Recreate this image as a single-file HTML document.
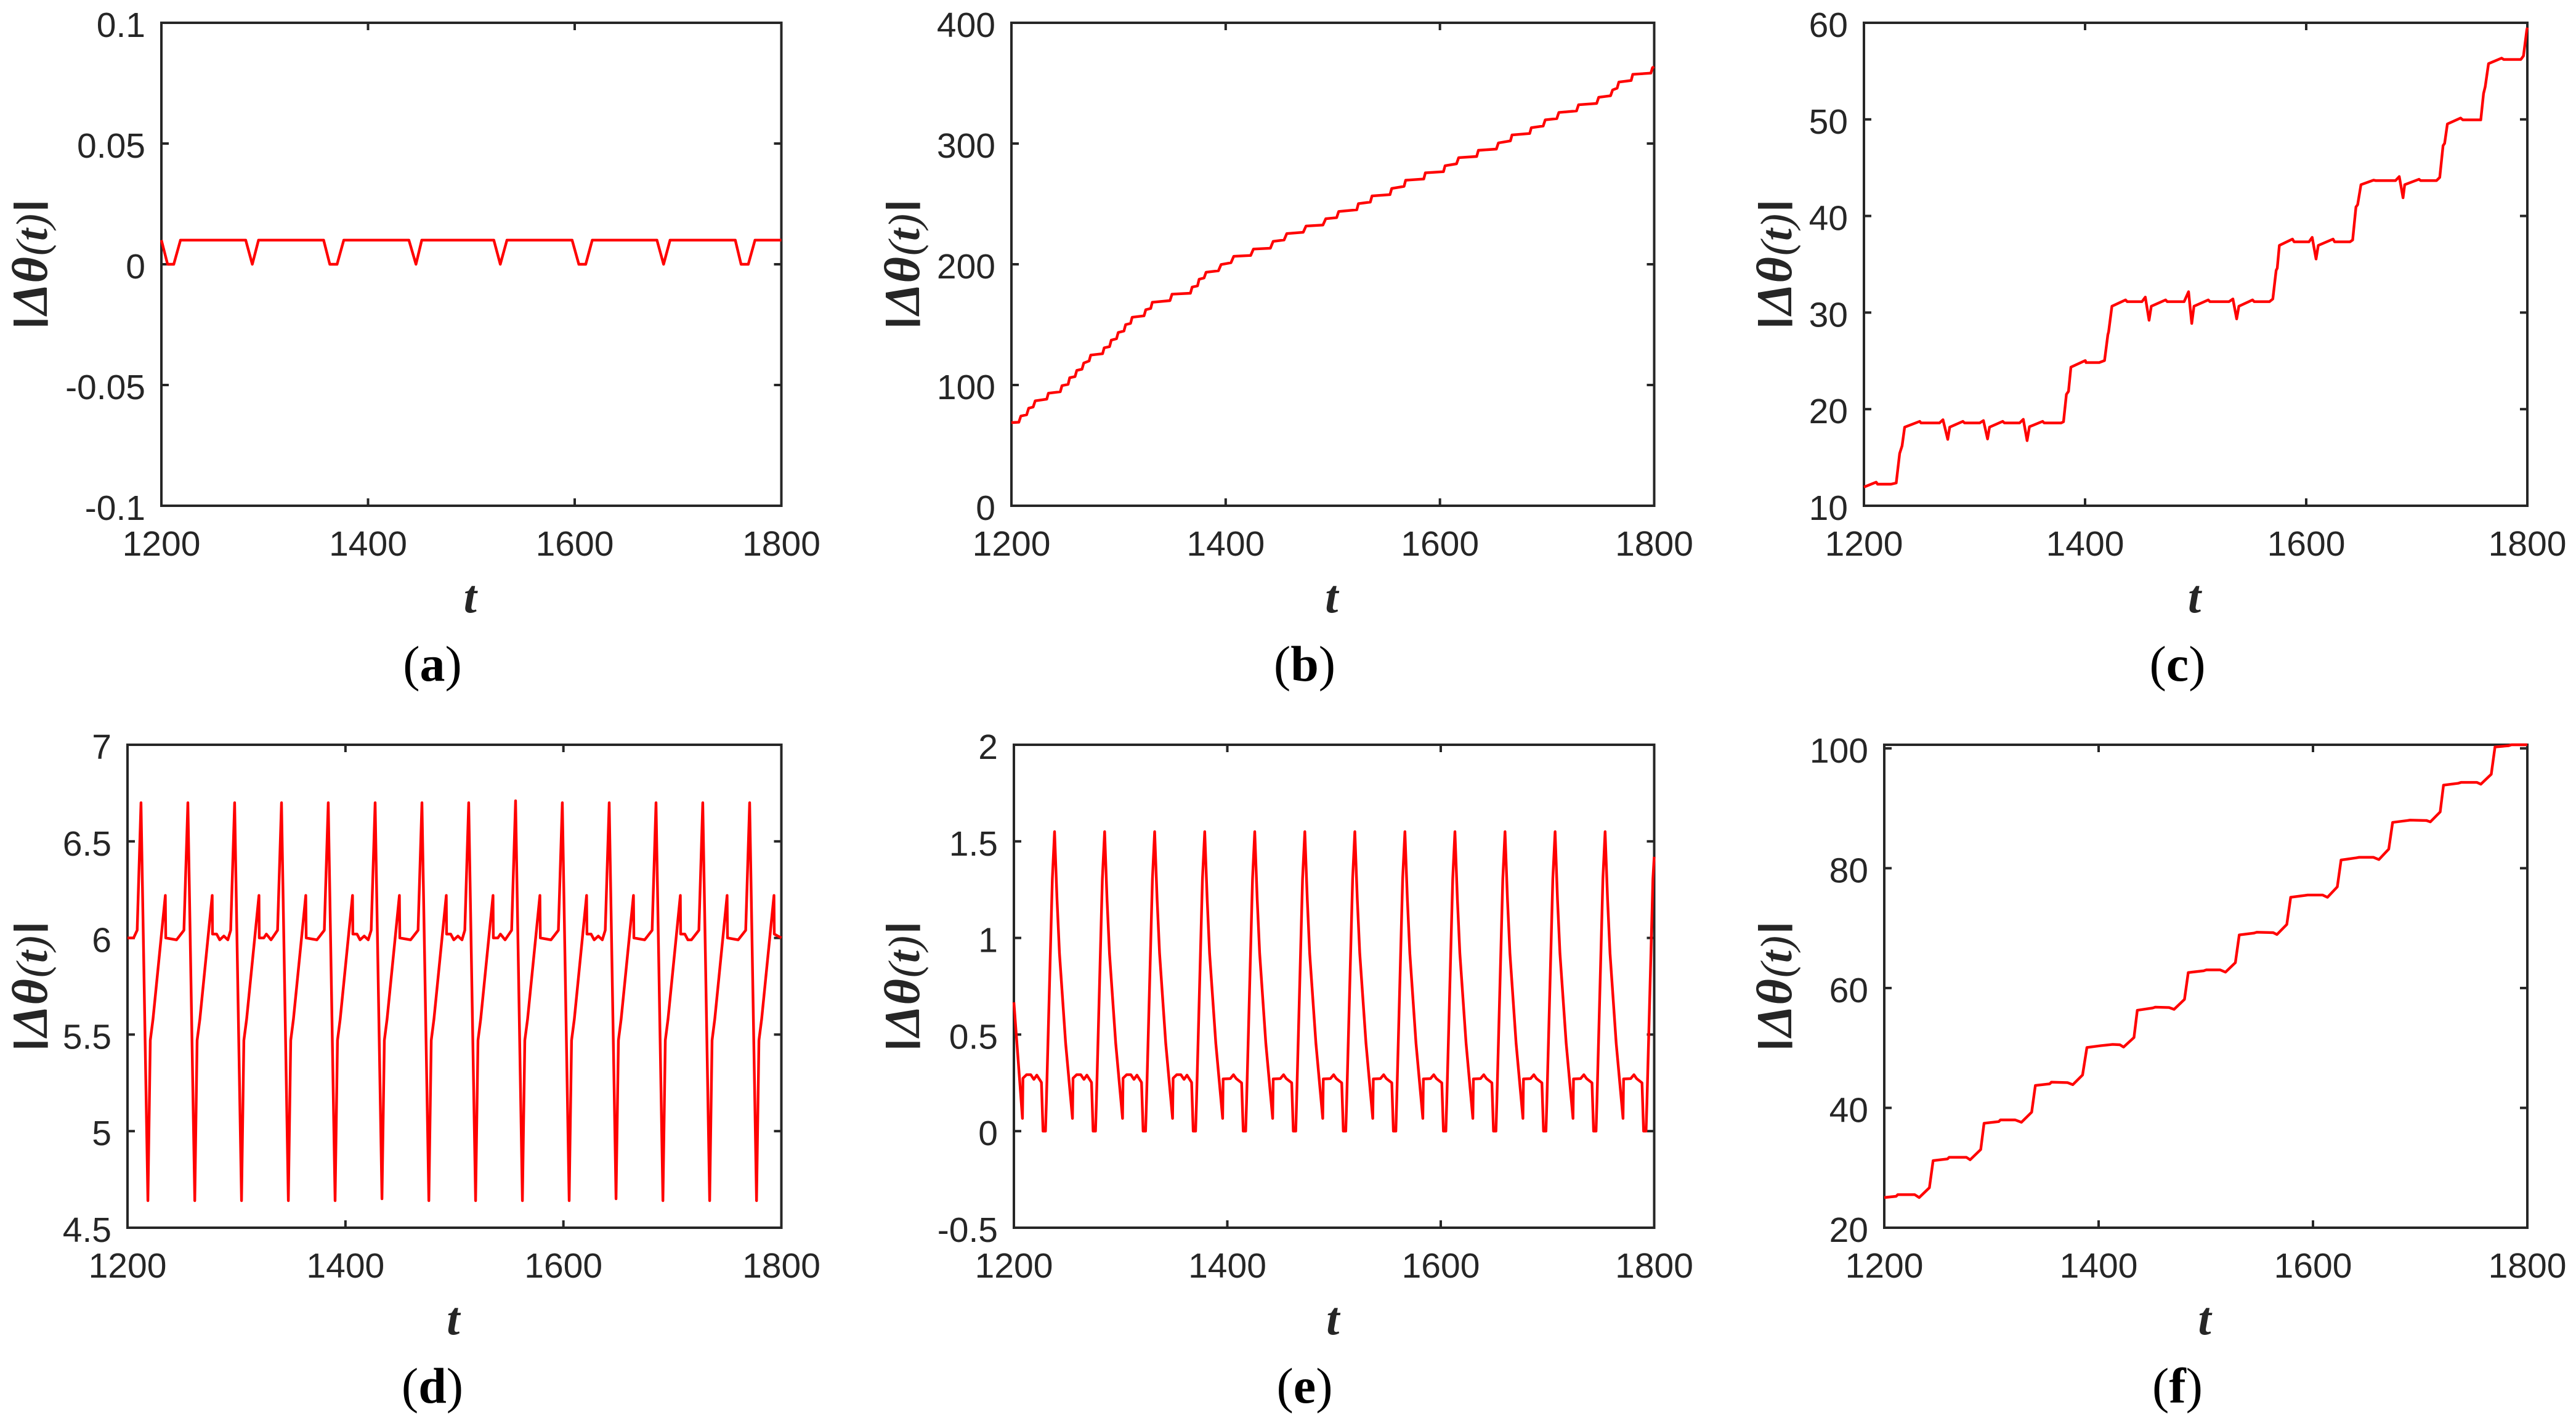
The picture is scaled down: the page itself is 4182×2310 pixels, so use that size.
<!DOCTYPE html>
<html lang="en">
<head>
<meta charset="utf-8">
<title>Phase difference panels</title>
<style>
html,body{margin:0;padding:0;background:#fff;}
svg{display:block;}
.tick{font-family:"Liberation Sans",sans-serif;font-size:57px;fill:#262626;}
.ylab{font-family:"Liberation Serif",serif;font-size:72px;fill:#262626;}
.xlab{font-family:"Liberation Serif",serif;font-size:76px;font-style:italic;font-weight:bold;fill:#262626;}
.cap{font-family:"Liberation Serif",serif;font-size:82px;fill:#000;}
</style>
</head>
<body>
<svg id="figure" xmlns="http://www.w3.org/2000/svg" width="4182" height="2310" viewBox="0 0 4182 2310"></svg>
<script>
const xTickValues = [1200, 1400, 1600, 1800];
const xTickLabels = ['1200', '1400', '1600', '1800'];

const panelAYTicks = [-0.1, -0.05, 0, 0.05, 0.1];
const panelAYLabels = ['-0.1', '-0.05', '0', '0.05', '0.1'];
const panelATimes = [1200,1206,1212,1218.5,1281.6,1288,1294,1357,1363,1370,1376.5,1439.5,1446.4,1452,1521.7,1528,1534.4,1597.5,1604,1610.7,1617,1679.6,1686,1692.3,1755.4,1761,1768,1774.5,1800];
const panelAValues = [.01,0,0,.01,.01,0,.01,.01,0,0,.01,.01,0,.01,.01,0,.01,.01,0,0,.01,.01,0,.01,.01,0,0,.01,.01];

const panelBYTicks = [0, 100, 200, 300, 400];
const panelBYLabels = ['0', '100', '200', '300', '400'];
const panelBTimes = [1200,1206.9,1208.8,1214.2,1216.1,1220.3,1222.2,1233,1234.5,1245.6,1247.2,1252.9,1254.4,1259.4,1261,1265.9,1267.5,1272.5,1274,1285.1,1286.6,1291.6,1293.2,1298.1,1299.7,1305,1306.6,1311.2,1312.7,1323.8,1325.4,1330,1331.5,1348,1349.9,1367.1,1368.7,1373.7,1375.2,1379.8,1381.7,1393.2,1395.7,1404.9,1407.5,1423.3,1425.9,1441.7,1444.3,1454.5,1457,1472.4,1475,1490.8,1493.4,1503.6,1505.5,1522.4,1523.9,1535,1536.6,1553.4,1555,1566.5,1568,1584.9,1586.4,1603.3,1604.8,1615.5,1617.5,1634.3,1635.9,1652.7,1654.6,1665.8,1667.3,1683.8,1685.3,1696.4,1698.3,1709.1,1711,1727.5,1729.4,1746.3,1748.2,1759.3,1761.2,1765.4,1767,1778.5,1780,1796.9,1798.4,1800];
const panelBValues = [68.9,69.2,74.3,75.3,80.8,81.8,86.9,88.3,93.2,94.4,99.5,100.5,106,107,112.1,113.1,118.2,119.9,124.8,125.9,130.8,131.8,137.2,138.3,143.5,144.7,150,151,156.1,157.3,162.4,163.4,168.5,169.9,175.2,176,181.1,182.1,187.6,188.6,193.4,194.6,199.8,201.3,206.6,207.3,212.6,213.3,219,220.1,225.4,226.5,231.7,232.5,237.7,238.6,243.7,245.1,250.2,251.5,256.6,257.7,262.8,264.5,269.6,270.6,275.7,276.7,281.6,283.2,288.3,289.3,294.4,295.4,300.5,302.2,307.1,308.3,313.1,314.5,319.6,320.6,325.7,327,332.1,333.2,338.3,339.6,344.4,345.8,350.9,352.2,357.3,358.3,362.8,363.6];

const panelCYTicks = [10, 20, 30, 40, 50, 60];
const panelCYLabels = ['10', '20', '30', '40', '50', '60'];
const panelCTimes = [1200,1211.1,1212.3,1224.5,1229.2,1232.3,1234.5,1236.8,1250.5,1251.6,1268.3,1271.5,1275.8,1277.6,1289.5,1291,1304.7,1308.1,1311.8,1313.6,1325.5,1327,1340.8,1344.1,1347.6,1349.7,1361.6,1363,1378.3,1380.5,1383.1,1385,1387.2,1400.2,1400.9,1412.8,1417.6,1420.6,1421.3,1424.3,1436.6,1438.1,1451.5,1454.5,1457.9,1459.9,1472.8,1474.3,1489.6,1493.6,1496.5,1498.5,1511.4,1512.9,1530.2,1533.7,1537.1,1539.1,1551.5,1553,1566.8,1569.8,1572.8,1573.8,1575.7,1587.6,1589.1,1602.5,1605.4,1608.9,1610.9,1624.3,1625.7,1639.6,1642,1645,1646.5,1649.5,1660.9,1662.9,1680.7,1684.2,1687.6,1689.1,1702,1703.5,1717.8,1720.8,1723.8,1725.2,1727.7,1739.6,1741.6,1757.9,1760.4,1761.9,1764.9,1776.7,1778.7,1794.1,1796.5,1799.5,1800];
const panelCValues = [11.93,12.44,12.23,12.23,12.36,15.42,16.19,18.14,18.74,18.57,18.57,18.91,16.87,18.14,18.74,18.57,18.57,18.82,16.91,18.14,18.74,18.57,18.57,18.95,16.74,18.18,18.74,18.57,18.57,18.7,21.54,21.84,24.35,25.03,24.82,24.82,25.03,27.71,28,30.66,31.31,31.13,31.13,31.6,29.2,30.66,31.31,31.13,31.13,32.16,28.87,30.66,31.31,31.13,31.13,31.41,29.34,30.66,31.31,31.13,31.13,31.41,34.37,34.6,36.95,37.61,37.32,37.32,37.79,35.54,36.95,37.61,37.32,37.32,37.51,40.94,41.17,43.24,43.71,43.66,43.66,44.08,41.88,43.24,43.8,43.66,43.66,43.99,47.28,47.51,49.53,50.14,49.95,49.95,52.68,53.38,55.77,56.34,56.2,56.2,56.57,59.25,59.5];

const panelDYTicks = [4.5, 5, 5.5, 6, 6.5, 7];
const panelDYLabels = ['4.5', '5', '5.5', '6', '6.5', '7'];
const panelDTimes = [
1200,1205.6,1208.9,
1212.4,1218.7,1220.9,1223.4,1234.7,1235.1,1245,1251.8,
1255.4,1261.7,1263.9,1266.4,1277.7,1278,1281.8,1284.6,1288.4,1292.1,1294.7,
1298.3,1304.6,1306.8,1309.3,1320.6,1320.9,1325.1,1327.4,1331.7,1337.7,
1341.3,1347.6,1349.8,1352.3,1363.6,1364,1373.8,1380.6,
1384.2,1390.5,1392.7,1395.2,1406.5,1406.8,1410.6,1413.4,1417.2,1420.9,1423.6,
1427.2,1433.5,1435.7,1438.2,1449.5,1449.9,1459.8,1466.6,
1470.2,1476.5,1478.7,1481.2,1492.5,1492.8,1496.6,1499.4,1503.2,1506.9,1509.5,
1513.1,1519.4,1521.6,1524.1,1535.4,1535.7,1539.9,1542.2,1546.5,1552.5,
1556.1,1562.4,1564.6,1567.1,1578.4,1578.8,1588.6,1595.4,
1599,1605.3,1607.5,1610,1621.3,1621.6,1625.4,1628.2,1632,1635.7,1638.4,
1642,1648.3,1650.5,1653,1664.3,1664.7,1674.6,1681.4,
1685,1691.3,1693.5,1696,1707.3,1707.6,1711.4,1714.2,1717.5,1724.3,
1727.9,1734.2,1736.4,1738.9,1750.2,1750.6,1760.4,1767.3,
1770.9,1777.2,1779.4,1781.9,1793.2,1793.5,1800];
const panelDValues = [
6,6,6.04,
6.7,4.64,5.47,5.58,6.22,6,5.99,6.04,
6.7,4.64,5.47,5.58,6.22,6.02,6.02,5.99,6.01,5.99,6.04,
6.7,4.64,5.47,5.58,6.22,6,6,6.02,5.99,6.04,
6.7,4.64,5.47,5.58,6.22,6,5.99,6.04,
6.7,4.64,5.47,5.58,6.22,6.02,6.02,5.99,6.01,5.99,6.04,
6.7,4.65,5.47,5.58,6.22,6,5.99,6.04,
6.7,4.64,5.47,5.58,6.22,6.02,6.02,5.99,6.01,5.99,6.04,
6.7,4.64,5.47,5.58,6.22,6,6,6.02,5.99,6.04,
6.71,4.64,5.47,5.58,6.22,6,5.99,6.04,
6.7,4.64,5.47,5.58,6.22,6.02,6.02,5.99,6.01,5.99,6.04,
6.7,4.65,5.47,5.58,6.22,6,5.99,6.04,
6.7,4.64,5.47,5.58,6.22,6.02,6.02,5.99,5.99,6.04,
6.7,4.64,5.47,5.58,6.22,6,5.99,6.04,
6.7,4.64,5.47,5.58,6.22,6.02,6];

const panelEYTicks = [-0.5, 0, 0.5, 1, 1.5, 2];
const panelEYLabels = ['-0.5', '0', '0.5', '1', '1.5', '2'];
const panelETimes = [
1200,1208,1208.5,1211.9,1215.8,1218.7,1221.5,1225.8,1227.3,1229.6,1230.4,1236,
1238.1,1240.4,1242.7,1248.5,1254.9,1255.4,1258.8,1262.7,1265.6,1268.4,1272.7,1274.2,1276.5,1277.3,1282.9,
1285,1287.3,1289.6,1295.4,1301.8,1302.3,1305.7,1309.6,1312.5,1315.3,1319.6,1321.1,1323.4,1324.2,1329.8,
1331.9,1334.2,1336.5,1342.3,1348.7,1349.2,1352.6,1356.5,1359.4,1362.2,1366.5,1368,1370.3,1371.1,1376.7,
1378.8,1381.1,1383.4,1389.2,1395.6,1396.1,1402.8,1405.8,1408.3,1413.4,1414.9,1417.2,1418,1423.6,
1425.7,1428,1430.3,1436.1,1442.5,1443,1449.7,1452.7,1455.2,1460.3,1461.8,1464.1,1464.9,1470.5,
1472.6,1474.9,1477.2,1483,1489.4,1489.9,1496.6,1499.6,1502.1,1507.2,1508.7,1511,1511.8,1517.4,
1519.5,1521.8,1524.1,1529.9,1536.3,1536.8,1543.5,1546.5,1549,1554.1,1555.6,1557.9,1558.7,1564.3,
1566.4,1568.7,1571,1576.8,1583.2,1583.7,1590.4,1593.4,1595.9,1601,1602.5,1604.8,1605.6,1611.2,
1613.3,1615.6,1617.9,1623.7,1630.1,1630.6,1637.3,1640.3,1642.8,1647.9,1649.4,1651.7,1652.5,1658.1,
1660.2,1662.5,1664.8,1670.6,1677,1677.5,1684.2,1687.2,1689.7,1694.8,1696.3,1698.6,1699.4,1705,
1707.1,1709.4,1711.7,1717.5,1723.9,1724.4,1731.1,1734.1,1736.6,1741.7,1743.2,1745.5,1746.3,1751.9,
1754,1756.3,1758.6,1764.4,1770.8,1771.3,1778,1781,1783.5,1788.6,1790.1,1792.4,1793.2,1798.8,
1800];
const panelEValues = [
.667,.066,.274,.292,.292,.268,.29,.252,0,0,.147,1.305,
1.55,1.2,.92,.455,.066,.274,.292,.292,.268,.29,.252,0,0,.147,1.305,
1.55,1.2,.92,.455,.066,.274,.292,.292,.268,.29,.252,0,0,.147,1.305,
1.55,1.2,.92,.455,.066,.274,.292,.292,.268,.29,.252,0,0,.147,1.305,
1.55,1.2,.92,.455,.066,.27,.272,.292,.272,.25,0,0,.147,1.305,
1.55,1.2,.92,.455,.066,.27,.272,.292,.272,.25,0,0,.147,1.305,
1.55,1.2,.92,.455,.066,.27,.272,.292,.272,.25,0,0,.147,1.305,
1.55,1.2,.92,.455,.066,.27,.272,.292,.272,.25,0,0,.147,1.305,
1.55,1.2,.92,.455,.066,.27,.272,.292,.272,.25,0,0,.147,1.305,
1.55,1.2,.92,.455,.066,.27,.272,.292,.272,.25,0,0,.147,1.305,
1.55,1.2,.92,.455,.066,.27,.272,.292,.272,.25,0,0,.147,1.305,
1.55,1.2,.92,.455,.066,.27,.272,.292,.272,.25,0,0,.147,1.305,
1.55,1.2,.92,.455,.066,.27,.272,.292,.272,.25,0,0,.147,1.305,
1.42];

const panelFYTicks = [20, 40, 60, 80, 100];
const panelFYLabels = ['20', '40', '60', '80', '100'];
const panelFTimes = [1200,1211.1,1212.6,1228.4,1232.6,1242.1,1245.6,1259,1260.5,1276.6,1280.1,1290,1293.1,1306.9,1308.4,1322.2,1328,1337.5,1341,1354.4,1355.9,1371,1375.9,1385,1389.1,1401.9,1413.1,1419.8,1423.3,1433,1436.1,1450.4,1453,1465.8,1470.4,1480.1,1483.6,1498,1500.5,1513.3,1518.4,1527.6,1531.2,1545,1547.5,1562.9,1566.4,1575.6,1579.2,1592.5,1595,1608.9,1613.5,1622.7,1626.2,1640.5,1643.1,1656.4,1661.5,1670.7,1674.3,1688,1690.6,1706,1709.5,1718.7,1721.8,1735.6,1738.1,1753,1756.6,1766.3,1769.8,1782.6,1785.2,1800];
const panelFValues = [25.04,25.24,25.52,25.52,25.04,26.68,31.2,31.48,31.75,31.75,31.34,33.05,37.44,37.71,37.99,37.99,37.6,39.29,43.74,44.02,44.29,44.22,43.87,45.49,50.08,50.38,50.6,50.53,50.15,51.74,56.29,56.67,56.82,56.74,56.44,58.11,62.58,62.88,63.03,63.03,62.65,64.24,68.86,69.17,69.32,69.24,68.94,70.61,75.15,75.45,75.53,75.53,75.15,76.89,81.36,81.74,81.82,81.82,81.44,83.18,87.65,87.95,88.03,87.95,87.73,89.39,93.86,94.17,94.32,94.32,94.02,95.68,100.23,100.45,100.6,100.6];

const NS = 'http://www.w3.org/2000/svg';
const svg = document.getElementById('figure');

function make(tag, attrs, parent) {
  const el = document.createElementNS(NS, tag);
  for (const k in attrs) el.setAttribute(k, attrs[k]);
  parent.appendChild(el);
  return el;
}

function drawPanel(cfg) {
  const xScale = function (t) { return cfg.left + (t - 1200) / 600 * (cfg.right - cfg.left); };
  const yScale = function (v) { return cfg.bottom - (v - cfg.yMin) / (cfg.yMax - cfg.yMin) * (cfg.bottom - cfg.top); };

  const g = make('g', {}, svg);
  
  

  const box = make('rect', { x: cfg.left, y: cfg.top, width: cfg.right - cfg.left, height: cfg.bottom - cfg.top, fill: '#fff', stroke: '#262626', 'stroke-width': 4 }, g);
  
  

  xTickValues.forEach(function (val, i) {
    const x = xScale(val);
    const bottomTick = make('line', { x1: x, x2: x, y1: cfg.bottom, y2: cfg.bottom - 12, stroke: '#262626', 'stroke-width': 4 }, g);
    
    
    const topTick = make('line', { x1: x, x2: x, y1: cfg.top, y2: cfg.top + 12, stroke: '#262626', 'stroke-width': 4 }, g);
    
    
    const label = make('text', { x: x, y: cfg.bottom + 81, 'text-anchor': 'middle', class: 'tick' }, g);
    
    
    label.textContent = xTickLabels[i];
  });

  cfg.yTicks.forEach(function (val, i) {
    const y = yScale(val);
    const leftTick = make('line', { x1: cfg.left, x2: cfg.left + 12, y1: y, y2: y, stroke: '#262626', 'stroke-width': 4 }, g);
    
    
    const rightTick = make('line', { x1: cfg.right, x2: cfg.right - 12, y1: y, y2: y, stroke: '#262626', 'stroke-width': 4 }, g);
    
    
    const label = make('text', { x: cfg.left - 26, y: y + 23, 'text-anchor': 'end', class: 'tick' }, g);
    
    
    label.textContent = cfg.yLabels[i];
  });

  const pts = cfg.times.map(function (t, i) { return xScale(t).toFixed(1) + ',' + yScale(cfg.values[i]).toFixed(1); }).join(' ');
  const line = make('polyline', { points: pts, fill: 'none', stroke: '#ff0000', 'stroke-width': 4.4, 'stroke-linejoin': 'round' }, g);
  
  

  const cy = (cfg.top + cfg.bottom) / 2;
  const yTitle = make('text', { class: 'ylab', 'text-anchor': 'middle', transform: 'translate(' + cfg.yTitleX + ',' + cy + ') rotate(-90)' }, g);
  
  
  const barA = make('tspan', { 'font-family': '"Liberation Sans",sans-serif', 'font-weight': 'bold', 'font-size': 57, dy: -12, stroke: '#262626', 'stroke-width': 2 }, yTitle);
  barA.textContent = '|';
  const sym = make('tspan', { 'font-weight': 'bold', 'font-style': 'italic', 'font-size': 82, dy: 12, dx: 5 }, yTitle);
  sym.textContent = 'Δθ';
  const par = make('tspan', { 'font-style': 'italic', dx: 2 }, yTitle);
  par.textContent = '(';
  const tt = make('tspan', { 'font-weight': 'bold', 'font-style': 'italic' }, yTitle);
  tt.textContent = 't';
  const par2 = make('tspan', { 'font-style': 'italic' }, yTitle);
  par2.textContent = ')';
  const barB = make('tspan', { 'font-family': '"Liberation Sans",sans-serif', 'font-weight': 'bold', 'font-size': 57, dy: -12, dx: 5, stroke: '#262626', 'stroke-width': 2 }, yTitle);
  barB.textContent = '|';

  const xTitle = make('text', { class: 'xlab', 'text-anchor': 'middle', x: (cfg.left + cfg.right) / 2 - 2, y: cfg.bottom + 173 }, g);
  
  
  xTitle.textContent = 't';

  const cap = make('text', { class: 'cap', 'text-anchor': 'middle', x: cfg.capX, y: cfg.bottom + 284 }, g);
  
  
  const open = make('tspan', {}, cap);
  open.textContent = '(';
  const letter = make('tspan', { 'font-weight': 'bold' }, cap);
  letter.textContent = cfg.letter;
  const close = make('tspan', {}, cap);
  close.textContent = ')';
}

drawPanel({ name: 'panel-a', letter: 'a', left: 262, right: 1268.5, top: 37, bottom: 821, yMin: -0.1, yMax: 0.1, yTicks: panelAYTicks, yLabels: panelAYLabels, times: panelATimes, values: panelAValues, yTitleX: 76, capX: 702 });
drawPanel({ name: 'panel-b', letter: 'b', left: 1642, right: 2685.5, top: 37, bottom: 821, yMin: 0, yMax: 400, yTicks: panelBYTicks, yLabels: panelBYLabels, times: panelBTimes, values: panelBValues, yTitleX: 1492, capX: 2118 });
drawPanel({ name: 'panel-c', letter: 'c', left: 3026, right: 4103, top: 37, bottom: 821, yMin: 10, yMax: 60, yTicks: panelCYTicks, yLabels: panelCYLabels, times: panelCTimes, values: panelCValues, yTitleX: 2908, capX: 3535 });
drawPanel({ name: 'panel-d', letter: 'd', left: 207, right: 1268.5, top: 1209, bottom: 1993, yMin: 4.5, yMax: 7, yTicks: panelDYTicks, yLabels: panelDYLabels, times: panelDTimes, values: panelDValues, yTitleX: 76, capX: 702 });
drawPanel({ name: 'panel-e', letter: 'e', left: 1646, right: 2685.5, top: 1209, bottom: 1993, yMin: -0.5, yMax: 2, yTicks: panelEYTicks, yLabels: panelEYLabels, times: panelETimes, values: panelEValues, yTitleX: 1492, capX: 2118 });
drawPanel({ name: 'panel-f', letter: 'f', left: 3059, right: 4103, top: 1209, bottom: 1993, yMin: 20, yMax: 100.6, yTicks: panelFYTicks, yLabels: panelFYLabels, times: panelFTimes, values: panelFValues, yTitleX: 2908, capX: 3535 });
</script>
</body>
</html>
